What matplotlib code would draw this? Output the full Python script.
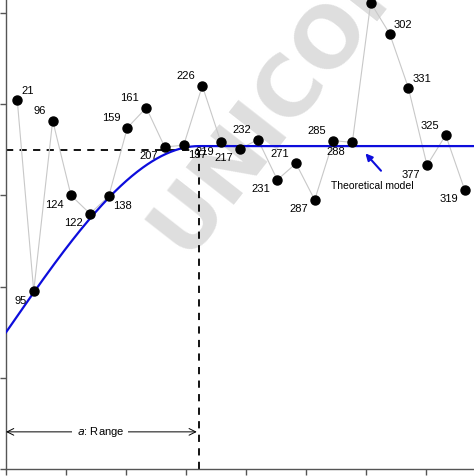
import numpy as np
import matplotlib.pyplot as plt

plt.rcParams['font.family'] = ['Liberation Sans', 'DejaVu Sans']

# experimental semivariogram (lag distance, semivariance, number of pairs)
lag = [1.88, 4.62, 7.78, 10.83, 14.0, 17.12, 20.22, 23.38, 26.45, 29.62, 32.72, 35.83, 38.95,
       42.0, 45.22, 48.33, 51.45, 54.55, 57.72, 60.78, 63.95, 67.05, 70.17, 73.28, 76.45]
gamma = [4.04, 1.95, 3.82, 3.00, 2.80, 2.99, 3.74, 3.96, 3.53, 3.55, 4.20, 3.58, 3.51,
         3.61, 3.17, 3.35, 2.95, 3.60, 3.58, 5.11, 4.77, 4.18, 3.33, 3.66, 3.06]
pairs = ['21', '95', '96', '124', '122', '138', '159', '161', '207', '197', '226', '219', '217',
         '232', '231', '271', '287', '285', '288', '', '302', '331', '377', '325', '319']
# where each count label sits: ra / la / lb / rb
label_pos = ['ra', 'lb', 'la', 'lb', 'lb', 'rb', 'la', 'la', 'lb', 'rb', 'la', 'lb', 'lb',
             'la', 'lb', 'la', 'lb', 'la', 'lb', 'ra', 'ra', 'ra', 'lb', 'la', 'lb']

# spherical model parameters
nugget = 1.5
sill = 3.54
a_range = 32.2
sill_mark = 3.50

fig = plt.figure(figsize=(4.74, 4.76), dpi=100)
ax = fig.add_axes([6 / 474, 6.7 / 476, 468 / 474, 469.3 / 476])

# watermark
ax.text(45.5, 4.05, 'UNICOR', rotation=52, fontsize=60, fontweight='bold',
        color='#dedede', ha='center', va='center', zorder=0, family='DejaVu Sans')

ax.plot(lag, gamma, color='#c8c8c8', lw=0.8, zorder=2)
ax.plot(lag, gamma, 'o', color='black', ms=6.5, zorder=4, clip_on=False)

offs = {'ra': (3, 6.5, 'left'), 'la': (-5, 6.8, 'right'),
        'lb': (-5, -6.8, 'right'), 'rb': (3, -6.8, 'left')}
for x, y, s, p in zip(lag, gamma, pairs, label_pos):
    dx, dy, ha = offs[p]
    ax.annotate(s, (x, y), xytext=(dx, dy), textcoords='offset points',
                ha=ha, va='center', fontsize=8, zorder=5)

h = np.linspace(0, 78, 600)
hr = np.minimum(h / a_range, 1.0)
model = nugget + (sill - nugget) * (1.5 * hr - 0.5 * hr ** 3)
ax.plot(h, model, color='#0d0ddc', lw=1.6, zorder=3)

ax.plot([0, a_range], [sill_mark, sill_mark], color='black', lw=1.3, ls=(0, (4, 3.5)), zorder=1)
ax.plot([a_range, a_range], [0, sill_mark], color='black', lw=1.3, ls=(0, (4, 3.5)), zorder=1)

ax.annotate('', xy=(0, 0.41), xytext=(31.8, 0.41),
            arrowprops=dict(arrowstyle='<->', color='black', lw=0.7, shrinkA=0, shrinkB=0,
                            mutation_scale=12))
ax.text(15.7, 0.41, '$\\it{a}$: Range', ha='center', va='center', fontsize=8,
        bbox=dict(facecolor='white', edgecolor='none', pad=3))

ax.annotate('', xy=(59.9, 3.46), xytext=(62.5, 3.27),
            arrowprops=dict(arrowstyle='-|>', color='#0d0ddc', lw=1.5, mutation_scale=10,
                            shrinkA=0, shrinkB=0))
ax.text(61.1, 3.10, 'Theoretical model', ha='center', va='center', fontsize=7.5)

ax.set_xlim(0, 78)
ax.set_ylim(0, 5.14)
ax.set_xticks(range(0, 80, 10))
ax.set_yticks(range(0, 6))
ax.tick_params(length=4.5, width=1, color='#555555', labelbottom=False, labelleft=False)
for side in ['top', 'right']:
    ax.spines[side].set_visible(False)
for side in ['left', 'bottom']:
    ax.spines[side].set_color('#555555')
    ax.spines[side].set_linewidth(1)

fig.savefig('out.png', dpi=100)
